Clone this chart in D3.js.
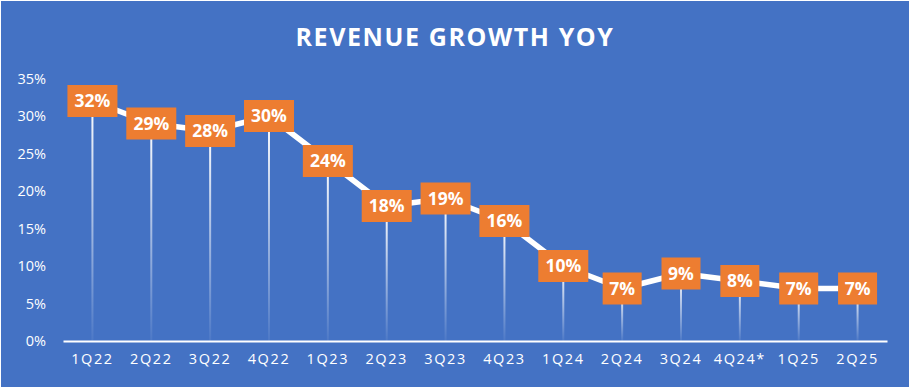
<!DOCTYPE html>
<html>
<head>
<meta charset="utf-8">
<script src="https://cdn.jsdelivr.net/npm/d3@7"></script>
<style>
  body { margin: 0; background: #fff; }
  svg { display: block; }
</style>
</head>
<body>
<div id="chart"></div>
<script>
// Quarter labels and YoY revenue growth (%)
const quarters = ["1Q22", "2Q22", "3Q22", "4Q22", "1Q23", "2Q23", "3Q23", "4Q23",
                  "1Q24", "2Q24", "3Q24", "4Q24*", "1Q25", "2Q25"];
const growth = [32, 29, 28, 30, 24, 18, 19, 16, 10, 7, 9, 8, 7, 7];
const yTicks = [0, 5, 10, 15, 20, 25, 30, 35];

const data = quarters.map((q, i) => ({ q: q, v: growth[i] }));

const width = 910;
const height = 388;
const margin = { top: 78.5, right: 23, bottom: 47, left: 63 };

const svg = d3.select("#chart").append("svg")
  .attr("width", width)
  .attr("height", height);

svg.append("rect")
  .attr("x", 1).attr("y", 1)
  .attr("width", width - 2).attr("height", height - 2)
  .attr("fill", "#4472C4");

// fading drop line gradient
const defs = svg.append("defs");
const grad = defs.append("linearGradient")
  .attr("id", "dropFade")
  .attr("x1", 0).attr("y1", 0).attr("x2", 0).attr("y2", 1);
grad.append("stop").attr("offset", "0%").attr("stop-color", "#fff").attr("stop-opacity", 1);
grad.append("stop").attr("offset", "100%").attr("stop-color", "#fff").attr("stop-opacity", 0.05);

const x = d3.scaleBand()
  .domain(quarters)
  .range([margin.left, width - margin.right]);

const y = d3.scaleLinear()
  .domain([0, 35])
  .range([height - margin.bottom, margin.top]);

// title
svg.append("text")
  .attr("x", width / 2)
  .attr("y", 46)
  .attr("text-anchor", "middle")
  .attr("fill", "#fff")
  .style("font-family", "'Open Sans', sans-serif")
  .style("font-weight", "bold")
  .style("font-size", "25px")
  .style("letter-spacing", "1.6px")
  .text("REVENUE GROWTH YOY");

// y axis labels
const yAxis = d3.axisLeft(y)
  .tickValues(yTicks)
  .tickFormat(d => d + "%")
  .tickSize(0)
  .tickPadding(0);

svg.append("g")
  .attr("transform", `translate(46,0)`)
  .call(yAxis)
  .call(g => g.select(".domain").remove())
  .call(g => g.selectAll("text")
    .attr("fill", "#fff")
    .style("font-family", "'Open Sans', sans-serif")
    .style("font-size", "14.5px"));

// drop lines
svg.append("g")
  .selectAll("rect")
  .data(data)
  .enter()
  .append("rect")
  .attr("x", d => x(d.q) + x.bandwidth() / 2 - 1)
  .attr("y", d => y(d.v))
  .attr("width", 2)
  .attr("height", d => y(0) - y(d.v))
  .attr("fill", "url(#dropFade)");

// x axis
const xAxis = d3.axisBottom(x).tickSize(0).tickPadding(13);
svg.append("g")
  .attr("transform", `translate(0,${y(0)})`)
  .call(xAxis)
  .call(g => g.select(".domain").attr("stroke", "#fff").attr("stroke-width", 2))
  .call(g => g.selectAll("text")
    .attr("fill", "#fff")
    .style("font-family", "'Open Sans', sans-serif")
    .style("font-size", "14.5px")
    .style("letter-spacing", "1.6px"));

// line
const line = d3.line()
  .x(d => x(d.q) + x.bandwidth() / 2)
  .y(d => y(d.v));

svg.append("path")
  .datum(data)
  .attr("fill", "none")
  .attr("stroke", "#fff")
  .attr("stroke-width", 5.5)
  .attr("stroke-linejoin", "round")
  .attr("d", line);

// data labels
const labels = svg.append("g")
  .selectAll("g")
  .data(data)
  .enter()
  .append("g")
  .attr("transform", d => `translate(${x(d.q) + x.bandwidth() / 2},${y(d.v)})`);

labels.append("rect")
  .attr("x", d => d.v >= 10 ? -25 : -19.5)
  .attr("y", -16)
  .attr("width", d => d.v >= 10 ? 50 : 39)
  .attr("height", 32)
  .attr("fill", "#ED7D31");

labels.append("text")
  .attr("text-anchor", "middle")
  .attr("dy", "0.36em")
  .attr("fill", "#fff")
  .style("font-family", "'Open Sans', sans-serif")
  .style("font-weight", "bold")
  .style("font-size", "17.5px")
  .text(d => d.v + "%");
</script>
</body>
</html>
